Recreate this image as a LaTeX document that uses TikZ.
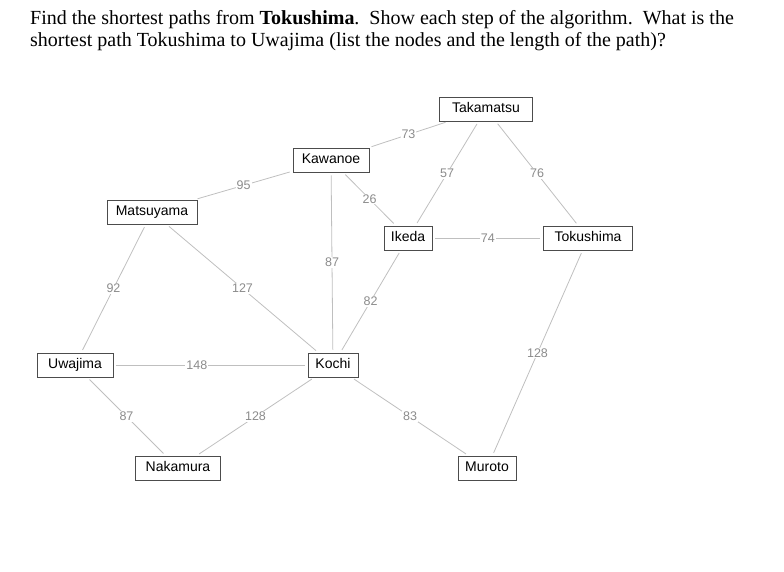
\documentclass[tikz,border=0pt]{standalone}
\usepackage{fontspec}
\setmainfont{Liberation Serif}
\newfontfamily\boxfont{Liberation Sans}
\begin{document}
\begin{tikzpicture}[x=1pt,y=-1pt,
  city/.style={draw=black!70,line width=0.8pt,fill=white,minimum height=24pt,text height=10pt,text depth=3pt,inner xsep=5pt,font=\boxfont\fontsize{14}{16}\selectfont},
  edge/.style={draw=black!25,line width=0.8pt,shorten <=3pt,shorten >=3pt},
  wt/.style={fill=white,inner sep=1pt,text=black!45,font=\boxfont\fontsize{12.5}{14}\selectfont}]
\useasboundingbox (0,0) rectangle (784,571);
\node[anchor=north west,align=left,inner sep=0pt,font=\fontsize{20}{22}\selectfont] (t) at (30,10)
 {Find the shortest paths from \textbf{Tokushima}.\ \ Show each step of the algorithm.\ \ What is the\\
  shortest path Tokushima to Uwajima (list the nodes and the length of the path)?};
\node[city,minimum width=93pt] (tak) at (486,109) {Takamatsu};
\node[city,minimum width=76pt] (kaw) at (331,160) {Kawanoe};
\node[city,minimum width=90pt] (mat) at (152,212) {Matsuyama};
\node[city,minimum width=48pt] (ike) at (408,238) {Ikeda};
\node[city,minimum width=89pt] (tok) at (588,238) {Tokushima};
\node[city,minimum width=76pt] (uwa) at (75,365) {Uwajima};
\node[city,minimum width=50pt] (koc) at (333,365) {Kochi};
\node[city,minimum width=85pt] (nak) at (178,468) {Nakamura};
\node[city,minimum width=58pt] (mur) at (487,468) {Muroto};
\path[edge] (kaw) -- node[wt]{73} (tak);
\path[edge] (tak) -- node[wt]{57} (ike);
\path[edge] (tak) -- node[wt]{76} (tok);
\path[edge] (mat) -- node[wt]{95} (kaw);
\path[edge] (kaw) -- node[wt]{26} (ike);
\path[edge] (kaw) -- node[wt]{87} (koc);
\path[edge] (ike) -- node[wt]{74} (tok);
\path[edge] (mat) -- node[wt]{127} (koc);
\path[edge] (ike) -- node[wt]{82} (koc);
\path[edge] (mat) -- node[wt]{92} (uwa);
\path[edge] (uwa) -- node[wt,pos=0.43]{148} (koc);
\path[edge] (tok) -- node[wt]{128} (mur);
\path[edge] (uwa) -- node[wt]{87} (nak);
\path[edge] (nak) -- node[wt]{128} (koc);
\path[edge] (koc) -- node[wt]{83} (mur);
\end{tikzpicture}
\end{document}
